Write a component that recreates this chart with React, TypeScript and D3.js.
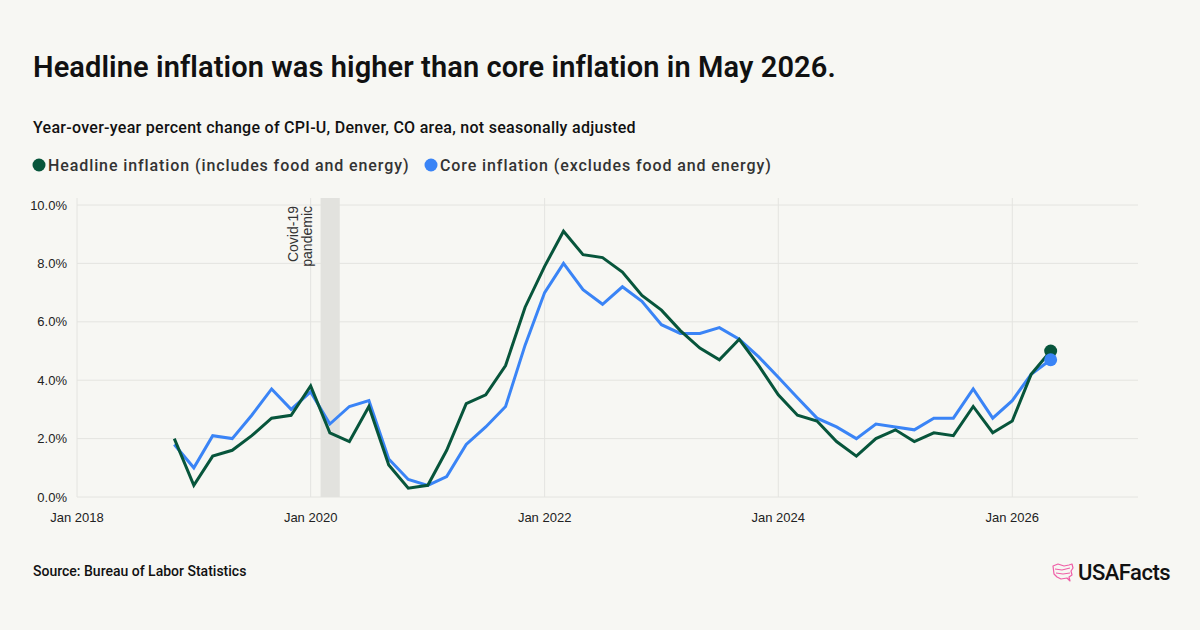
import React, { useEffect, useRef } from "react";
import * as d3 from "d3";

// bimonthly Denver CPI-U releases, year-over-year % change
const months = [
  "2018-11", "2019-01", "2019-03", "2019-05", "2019-07", "2019-09", "2019-11",
  "2020-01", "2020-03", "2020-05", "2020-07", "2020-09", "2020-11",
  "2021-01", "2021-03", "2021-05", "2021-07", "2021-09", "2021-11",
  "2022-01", "2022-03", "2022-05", "2022-07", "2022-09", "2022-11",
  "2023-01", "2023-03", "2023-05", "2023-07", "2023-09", "2023-11",
  "2024-01", "2024-03", "2024-05", "2024-07", "2024-09", "2024-11",
  "2025-01", "2025-03", "2025-05", "2025-07", "2025-09", "2025-11",
  "2026-01", "2026-03", "2026-05",
];

const headline = [
  2.0, 0.4, 1.4, 1.6, 2.1, 2.7, 2.8,
  3.8, 2.2, 1.9, 3.1, 1.1, 0.3,
  0.4, 1.6, 3.2, 3.5, 4.5, 6.5,
  7.9, 9.1, 8.3, 8.2, 7.7, 6.9,
  6.4, 5.7, 5.1, 4.7, 5.4, 4.5,
  3.5, 2.8, 2.6, 1.9, 1.4, 2.0,
  2.3, 1.9, 2.2, 2.1, 3.1, 2.2,
  2.6, 4.2, 5.0,
];

const core = [
  1.8, 1.0, 2.1, 2.0, 2.8, 3.7, 3.0,
  3.6, 2.5, 3.1, 3.3, 1.3, 0.6,
  0.4, 0.7, 1.8, 2.4, 3.1, 5.2,
  7.0, 8.0, 7.1, 6.6, 7.2, 6.7,
  5.9, 5.6, 5.6, 5.8, 5.4, 4.8,
  4.1, 3.4, 2.7, 2.4, 2.0, 2.5,
  2.4, 2.3, 2.7, 2.7, 3.7, 2.7,
  3.3, 4.2, 4.7,
];

const yTicks = [0, 2, 4, 6, 8, 10];
const xTicks = ["2018-01", "2020-01", "2022-01", "2024-01", "2026-01"];
const xDomain = ["2018-01", "2027-02"];
const covidSpan = ["2020-02", "2020-04"];

const seriesNames = [
  "Headline inflation (includes food and energy)",
  "Core inflation (excludes food and energy)",
];

const GREEN = "#07553b";
const BLUE = "#3a84f6";
const GRID = "#e4e4e0";
const BG = "#f7f7f3";
const SANS = "Roboto, 'Noto Sans', sans-serif";
const AXIS_FONT = "'Liberation Sans', Arial, sans-serif";

export default function App() {
  const ref = useRef<SVGSVGElement>(null);

  useEffect(() => {
    document.body.style.margin = "0";
    document.body.style.background = BG;

    const parse = d3.timeParse("%Y-%m");
    const width = 1200;
    const height = 630;
    const top = 198;
    const bottom = 497;

    const svg = d3.select(ref.current);
    svg.selectAll("*").remove();
    svg.attr("width", width).attr("height", height);

    svg.append("rect").attr("width", width).attr("height", height).attr("fill", BG);

    const x = d3.scaleTime()
      .domain(xDomain.map(d => parse(d) as Date))
      .range([77, 1139]);

    const y = d3.scaleLinear()
      .domain([0, 10])
      .range([bottom, 205]);

    // title block
    svg.append("text")
      .attr("x", 33).attr("y", 77)
      .attr("font-family", SANS)
      .attr("font-weight", 600)
      .attr("font-size", 29)
      .attr("letter-spacing", 0.1)
      .attr("fill", "#111")
      .text("Headline inflation was higher than core inflation in May 2026.");

    svg.append("text")
      .attr("x", 33).attr("y", 133)
      .attr("font-family", SANS)
      .attr("font-weight", 500)
      .attr("font-size", 16)
      .attr("letter-spacing", 0.28)
      .attr("fill", "#111")
      .text("Year-over-year percent change of CPI-U, Denver, CO area, not seasonally adjusted");

    // legend
    const legendX = [39, 431];
    [GREEN, BLUE].forEach((c, i) => {
      svg.append("circle")
        .attr("cx", legendX[i]).attr("cy", 165).attr("r", 6.5)
        .attr("fill", c);
      svg.append("text")
        .attr("x", legendX[i] + 9).attr("y", 170.5)
        .attr("font-family", SANS)
        .attr("font-weight", 500)
        .attr("font-size", 16)
        .attr("letter-spacing", 0.9)
        .attr("fill", "#333")
        .text(seriesNames[i]);
    });

    // gridlines
    const grid = svg.append("g");
    grid.selectAll("line.h").data(yTicks).enter().append("line")
      .attr("class", "h")
      .attr("x1", 77).attr("x2", 1138)
      .attr("y1", d => y(d)).attr("y2", d => y(d))
      .attr("stroke", GRID).attr("stroke-width", 1);

    grid.selectAll("line.v").data(xTicks).enter().append("line")
      .attr("class", "v")
      .attr("x1", d => x(parse(d) as Date)).attr("x2", d => x(parse(d) as Date))
      .attr("y1", top).attr("y2", bottom)
      .attr("stroke", GRID).attr("stroke-width", 1);

    // covid band
    const c0 = x(parse(covidSpan[0]) as Date);
    const c1 = x(parse(covidSpan[1]) as Date);
    svg.append("rect")
      .attr("x", c0).attr("y", top)
      .attr("width", c1 - c0).attr("height", bottom - top)
      .attr("fill", "#e2e2de");

    const covidLabel = svg.append("text")
      .attr("transform", `translate(${c0 - 23},206) rotate(-90)`)
      .attr("text-anchor", "end")
      .attr("font-family", AXIS_FONT)
      .attr("font-size", 14)
      .attr("fill", "#333");
    covidLabel.append("tspan").attr("x", 0).attr("y", 0).text("Covid-19");
    covidLabel.append("tspan").attr("x", 0).attr("y", 14).text("pandemic");

    // axis labels
    svg.append("g").selectAll("text").data(yTicks).enter().append("text")
      .attr("x", 67).attr("y", d => y(d))
      .attr("dy", "0.35em")
      .attr("text-anchor", "end")
      .attr("font-family", AXIS_FONT)
      .attr("font-size", 13)
      .attr("fill", "#222")
      .text(d => d.toFixed(1) + "%");

    const fmt = d3.timeFormat("%b %Y");
    svg.append("g").selectAll("text").data(xTicks).enter().append("text")
      .attr("x", d => x(parse(d) as Date)).attr("y", 522)
      .attr("text-anchor", "middle")
      .attr("font-family", AXIS_FONT)
      .attr("font-size", 13)
      .attr("fill", "#222")
      .text(d => fmt(parse(d) as Date));

    // series
    const dates = months.map(d => parse(d) as Date);
    const line = d3.line<number>()
      .x((_, i) => x(dates[i]))
      .y(d => y(d));

    [[core, BLUE], [headline, GREEN]].forEach(([vals, color]) => {
      svg.append("path")
        .datum(vals as number[])
        .attr("d", line)
        .attr("fill", "none")
        .attr("stroke", color as string)
        .attr("stroke-width", 3)
        .attr("stroke-linejoin", "miter");
    });

    const last = dates.length - 1;
    svg.append("circle")
      .attr("cx", x(dates[last])).attr("cy", y(headline[last])).attr("r", 6.5)
      .attr("fill", GREEN);
    svg.append("circle")
      .attr("cx", x(dates[last])).attr("cy", y(core[last])).attr("r", 6.5)
      .attr("fill", BLUE);

    // footer
    svg.append("text")
      .attr("x", 33).attr("y", 576)
      .attr("font-family", SANS)
      .attr("font-weight", 500)
      .attr("font-size", 14)
      .attr("fill", "#111")
      .text("Source: Bureau of Labor Statistics");

    const logo = svg.append("g").attr("transform", "translate(1052,563)");
    logo.append("path")
      .attr("d", "M1,3 L6,1 L12,3 L17,2 L20,1 L21,5 L19,8 L20,12 L17,14 L18,18 L15,15 L9,16 L5,14 L2,11 Z")
      .attr("fill", "none")
      .attr("stroke", "#ef5fa7")
      .attr("stroke-width", 1.2)
      .attr("stroke-linejoin", "round");
    logo.append("path")
      .attr("d", "M3,6 L10,7 L18,5 M4,10 L11,11 L18,10")
      .attr("fill", "none")
      .attr("stroke", "#ef5fa7")
      .attr("stroke-width", 1.2);
    svg.append("text")
      .attr("x", 1078).attr("y", 580)
      .attr("font-family", SANS)
      .attr("font-weight", 500)
      .attr("font-size", 22)
      .attr("letter-spacing", -0.5)
      .attr("fill", "#111")
      .text("USAFacts");
  }, []);

  return <svg ref={ref} style={{ display: "block" }}></svg>;
}
